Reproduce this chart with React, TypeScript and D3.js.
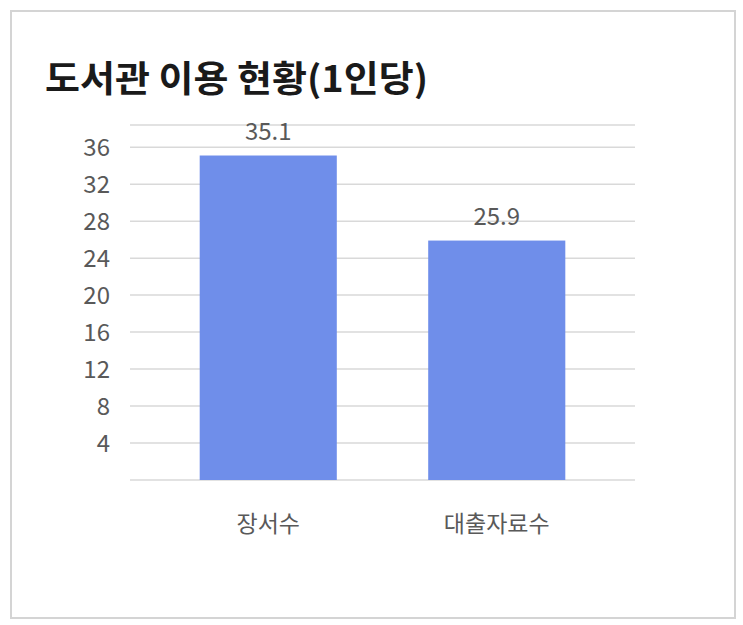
import { useEffect, useRef } from 'react'
import * as d3 from 'd3'

const categories = ['장서수', '대출자료수']
const values = [35.1, 25.9]
const yTicks = [4, 8, 12, 16, 20, 24, 28, 32, 36]
const yMax = 38.4
const title = '도서관 이용 현황(1인당)'

const FONT = '"Noto Sans CJK KR", "Noto Sans", sans-serif'

export default function App() {
  const svgRef = useRef<SVGSVGElement>(null)

  useEffect(() => {
    document.body.style.margin = '0'
    if (!svgRef.current) return

    const width = 743
    const height = 625
    const margin = { top: 125, right: 108, bottom: 145, left: 130 }
    const innerWidth = width - margin.left - margin.right
    const innerHeight = height - margin.top - margin.bottom

    const x = d3.scaleBand()
      .domain(categories)
      .range([0, innerWidth])
      .paddingInner(0.4)
      .paddingOuter(0.305)

    const y = d3.scaleLinear()
      .domain([0, yMax])
      .range([innerHeight, 0])

    const svg = d3.select(svgRef.current)
    svg.selectAll('*').remove()
    svg.attr('width', width).attr('height', height)

    svg.append('rect')
      .attr('x', 11)
      .attr('y', 11)
      .attr('width', 724)
      .attr('height', 607)
      .attr('fill', '#fff')
      .attr('stroke', '#d4d4d4')
      .attr('stroke-width', 2)

    svg.append('text')
      .attr('x', 45)
      .attr('y', 92)
      .attr('font-family', FONT)
      .attr('font-size', 36)
      .attr('font-weight', 700)
      .attr('fill', '#1a1a1a')
      .attr('textLength', 383)
      .attr('lengthAdjust', 'spacingAndGlyphs')
      .text(title)

    const g = svg.append('g').attr('transform', `translate(${margin.left},${margin.top})`)

    // gridlines, including the top of the value range and the baseline
    g.append('g')
      .selectAll('line')
      .data([0, ...yTicks, yMax])
      .join('line')
      .attr('x1', 0)
      .attr('x2', innerWidth)
      .attr('y1', d => y(d))
      .attr('y2', d => y(d))
      .attr('stroke', '#d9d9d9')
      .attr('stroke-width', 1.5)

    g.append('g')
      .selectAll('text')
      .data(yTicks)
      .join('text')
      .attr('x', -20)
      .attr('y', d => y(d))
      .attr('dy', '0.38em')
      .attr('text-anchor', 'end')
      .attr('font-family', FONT)
      .attr('font-size', 24)
      .attr('fill', '#595959')
      .text(d => d)

    g.append('g')
      .selectAll('rect')
      .data(values)
      .join('rect')
      .attr('x', (_, i) => x(categories[i])!)
      .attr('y', d => y(d))
      .attr('width', x.bandwidth())
      .attr('height', d => innerHeight - y(d))
      .attr('fill', '#6f8eea')

    g.append('g')
      .selectAll('text')
      .data(values)
      .join('text')
      .attr('x', (_, i) => x(categories[i])! + x.bandwidth() / 2)
      .attr('y', d => y(d) - 16)
      .attr('text-anchor', 'middle')
      .attr('font-family', FONT)
      .attr('font-size', 24)
      .attr('fill', '#595959')
      .text(d => d.toFixed(1))

    g.append('g')
      .selectAll('text')
      .data(categories)
      .join('text')
      .attr('x', d => x(d)! + x.bandwidth() / 2)
      .attr('y', innerHeight + 52)
      .attr('text-anchor', 'middle')
      .attr('font-family', FONT)
      .attr('font-size', 23)
      .attr('fill', '#595959')
      .text(d => d)
  }, [])

  return <svg ref={svgRef} style={{ display: 'block' }} />
}
